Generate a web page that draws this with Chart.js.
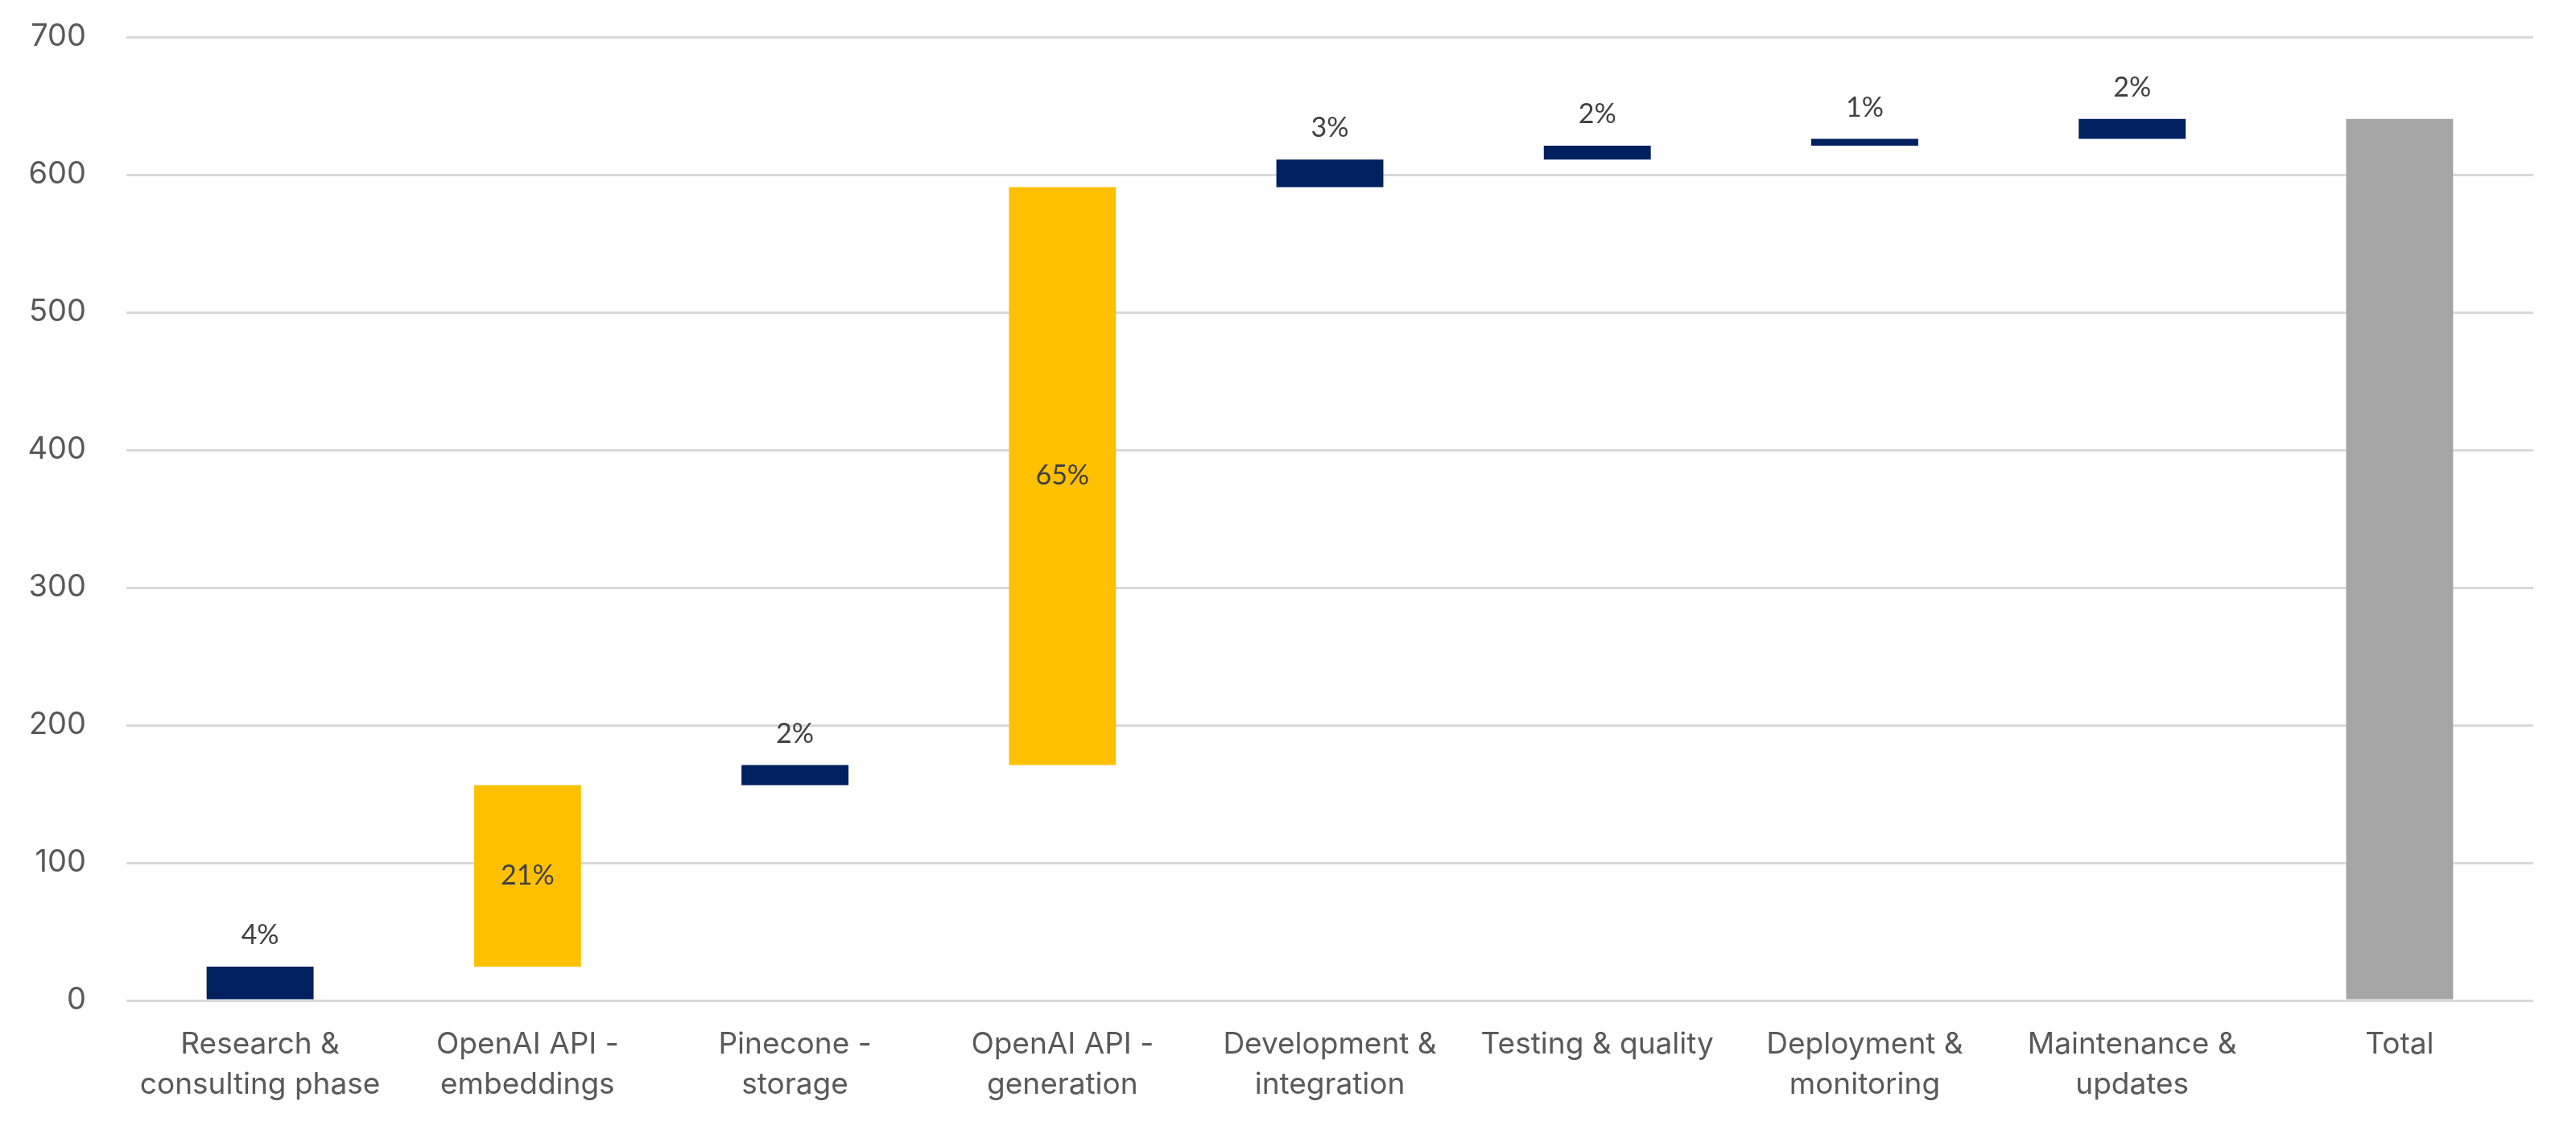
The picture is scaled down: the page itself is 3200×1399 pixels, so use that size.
<!DOCTYPE html>
<html>
<head>
<meta charset="utf-8">
<script src="https://cdn.jsdelivr.net/npm/chart.js@4/dist/chart.umd.min.js"></script>
<style>
  html, body { margin: 0; padding: 0; background: #fff; }
  #wrap { width: 3200px; height: 1399px; }
</style>
</head>
<body>
<div id="wrap"><canvas id="chart"></canvas></div>
<script>
// categories along the x axis
const categories = [
  ["Research &", "consulting phase"],
  ["OpenAI API -", "embeddings"],
  ["Pinecone -", "storage"],
  ["OpenAI API -", "generation"],
  ["Development &", "integration"],
  "Testing & quality",
  ["Deployment &", "monitoring"],
  ["Maintenance &", "updates"],
  "Total"
];

// floating bars: where each step starts and ends
const barStart = [0, 24.5, 156.5, 171, 591, 611, 621, 626, 0];
const barEnd = [24.5, 156.5, 171, 591, 611, 621, 626, 640.5, 640.5];

// share labels as printed on the chart
const shareLabels = ["4%", "21%", "2%", "65%", "3%", "2%", "1%", "2%", ""];

// y axis
const yMin = 0;
const yMax = 700;
const yStep = 100;

const NAVY = "#002060";
const GOLD = "#FFC000";
const GREY = "#A5A5A5";
const barColors = [NAVY, GOLD, NAVY, GOLD, NAVY, NAVY, NAVY, NAVY, GREY];

const shareLabelPlugin = {
  id: "shareLabels",
  afterDatasetsDraw(chart) {
    const ctx = chart.ctx;
    const meta = chart.getDatasetMeta(0);
    ctx.save();
    ctx.fillStyle = "#404040";
    ctx.font = "34px Lato";
    ctx.textAlign = "center";
    meta.data.forEach((bar, i) => {
      const txt = shareLabels[i];
      if (!txt) return;
      const top = Math.min(bar.y, bar.base);
      const h = Math.abs(bar.base - bar.y);
      if (h > 100) {
        ctx.textBaseline = "middle";
        ctx.fillText(txt, bar.x, top + h / 2);
      } else {
        ctx.textBaseline = "bottom";
        ctx.fillText(txt, bar.x, top - 22);
      }
    });
    ctx.restore();
  }
};

new Chart(document.getElementById("chart"), {
  type: "bar",
  data: {
    labels: categories,
    datasets: [
      {
        data: barStart.map((s, i) => [s, barEnd[i]]),
        backgroundColor: barColors,
        borderWidth: 0,
        categoryPercentage: 1,
        barPercentage: 0.4
      }
    ]
  },
  options: {
    responsive: true,
    maintainAspectRatio: false,
    devicePixelRatio: 1,
    animation: false,
    layout: { padding: { top: 46, right: 53, bottom: 0, left: 0 } },
    plugins: {
      legend: { display: false },
      tooltip: { enabled: false }
    },
    scales: {
      x: {
        grid: { display: false },
        border: { display: false },
        ticks: {
          color: "#595959",
          font: { family: "Inter", size: 37, lineHeight: 1.35 },
          padding: 22,
          autoSkip: false,
          maxRotation: 0
        },
        afterFit: (s) => { s.height = 156; }
      },
      y: {
        min: yMin,
        max: yMax,
        grid: { color: "#D9D9D9", lineWidth: 3, drawTicks: true, tickLength: 42, tickColor: "rgba(0,0,0,0)" },
        border: { display: false },
        ticks: {
          stepSize: yStep,
          color: "#595959",
          font: { family: "Inter", size: 38 },
          padding: 8
        },
        afterFit: (s) => { s.width = 157; }
      }
    }
  },
  plugins: [shareLabelPlugin]
});
</script>
</body>
</html>
